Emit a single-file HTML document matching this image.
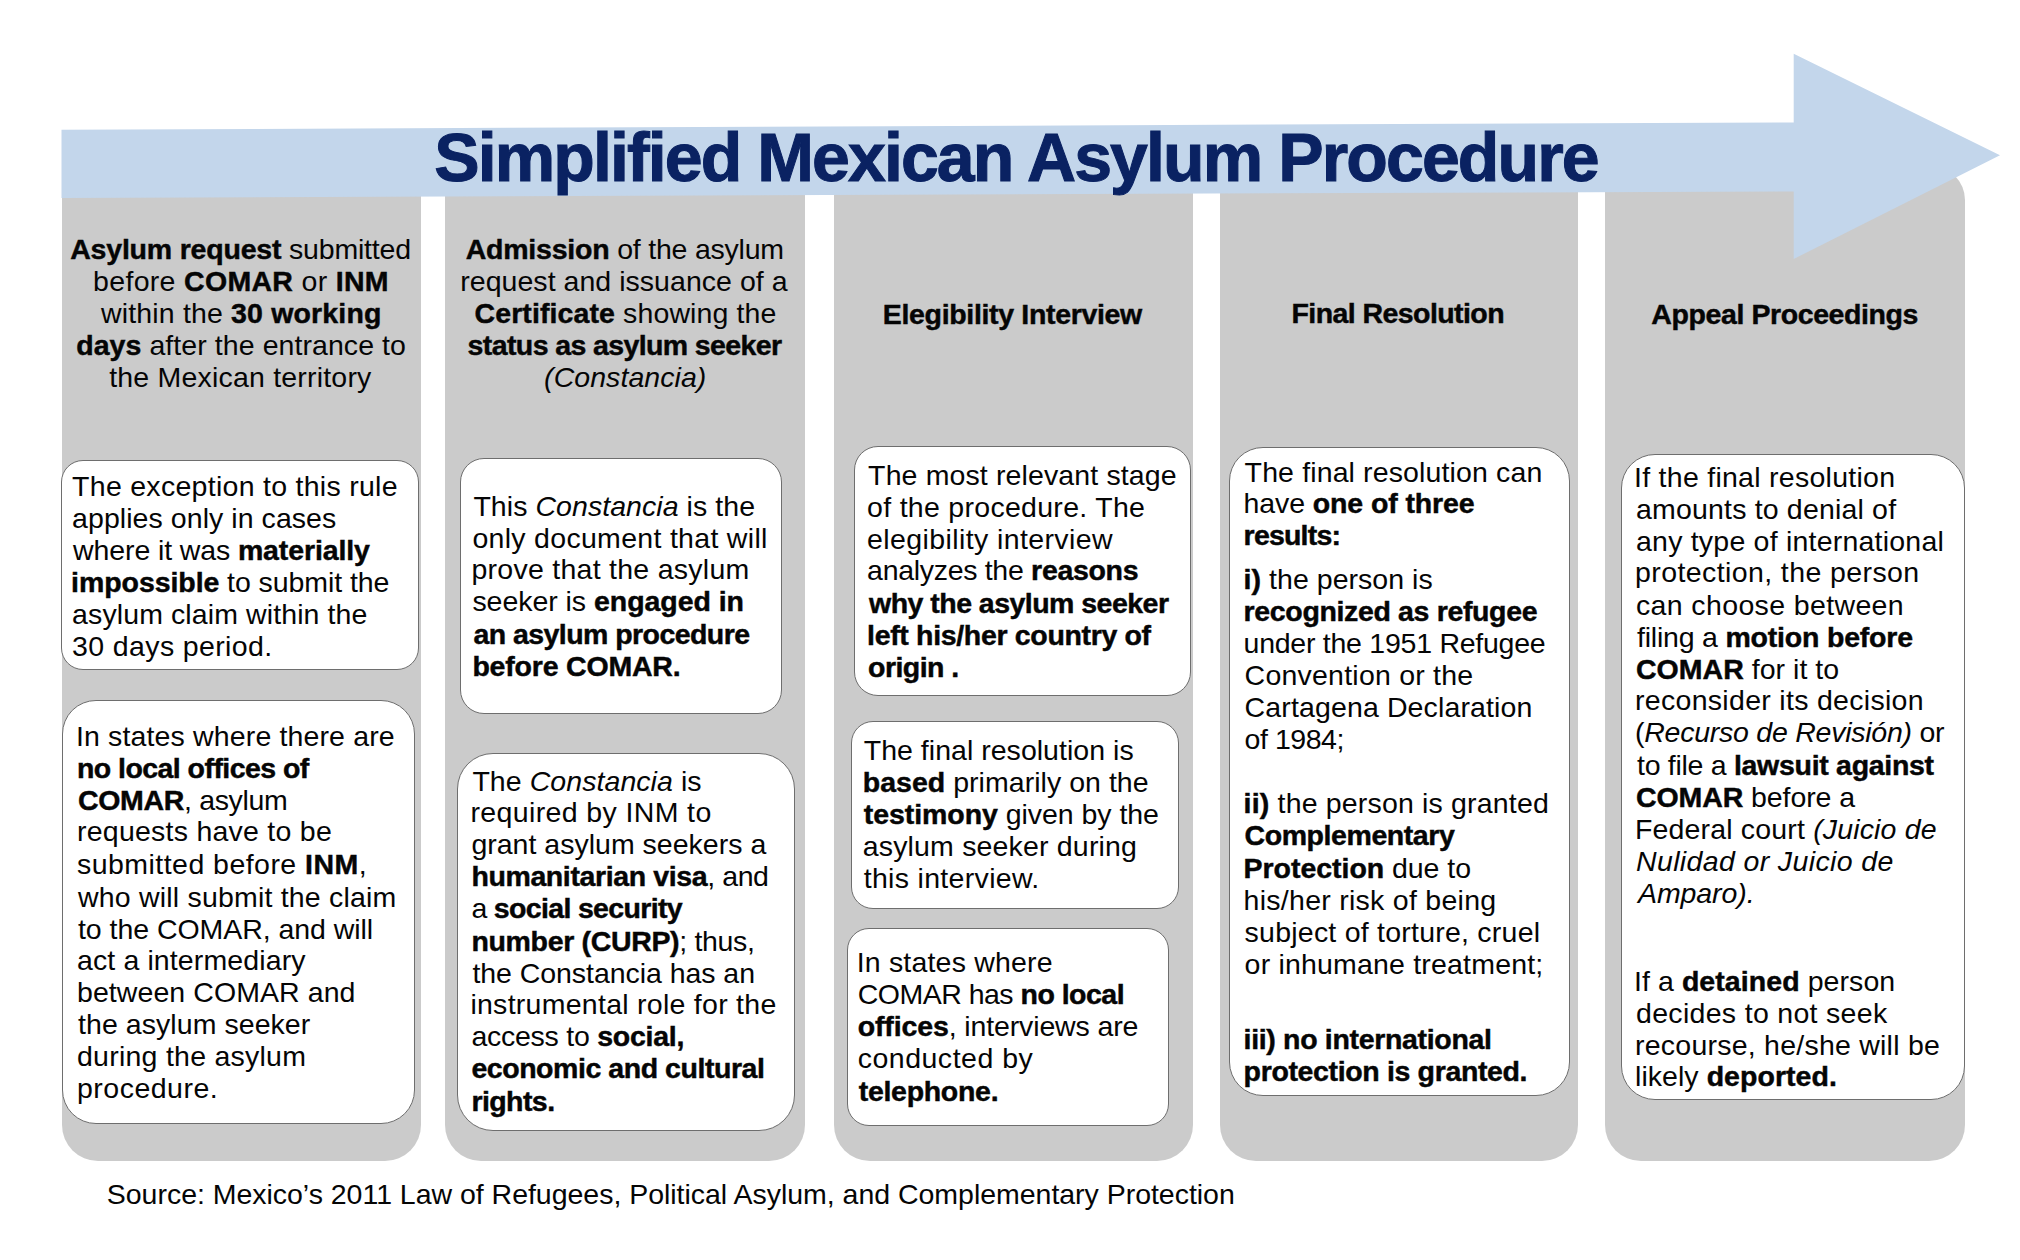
<!DOCTYPE html><html><head><meta charset="utf-8"><style>
html,body{margin:0;padding:0;background:#fff;}
body{width:2020px;height:1260px;position:relative;overflow:hidden;font-family:"Liberation Sans",sans-serif;color:#050505;}
.l{position:absolute;white-space:nowrap;font-size:28.5px;line-height:32px;height:32px;}
.l b{font-weight:bold;-webkit-text-stroke:0.45px currentColor;}
.c{position:absolute;background:#cbcbcb;border-radius:36px;}
.bx{position:absolute;background:#fff;border:1.3px solid #6e6e6e;box-sizing:border-box;}
.t{position:absolute;white-space:nowrap;font-size:68px;font-weight:bold;color:#0a2262;line-height:80px;height:80px;-webkit-text-stroke:1px #0a2262;}
</style></head><body>
<div class="c" style="left:61.5px;top:150.0px;width:359.5px;height:1010.7px;border-radius:0 0 36px 36px;"></div>
<div class="c" style="left:445.3px;top:150.0px;width:359.7px;height:1010.7px;border-radius:0 0 36px 36px;"></div>
<div class="c" style="left:834.0px;top:150.0px;width:358.8px;height:1010.7px;border-radius:0 0 36px 36px;"></div>
<div class="c" style="left:1219.8px;top:150.0px;width:358.5px;height:1010.7px;border-radius:0 0 36px 36px;"></div>
<div class="c" style="left:1605.3px;top:166.0px;width:359.7px;height:994.7px;border-radius:0 34px 36px 36px;"></div>
<svg style="position:absolute;left:0;top:0" width="2020" height="1260" viewBox="0 0 2020 1260"><polygon fill="#c3d6eb" points="61.5,129.7 1793.7,122.4 1793.7,53.7 2000,155.3 1793.7,259 1793.7,191.4 61.5,197.9"/></svg>
<div class="bx" style="left:61.0px;top:459.6px;width:357.5px;height:210.4px;border-radius:22px;"></div>
<div class="bx" style="left:61.7px;top:700.3px;width:353.0px;height:423.9px;border-radius:34px;"></div>
<div class="bx" style="left:459.6px;top:458.4px;width:322.8px;height:255.9px;border-radius:24px;"></div>
<div class="bx" style="left:457.2px;top:752.5px;width:337.4px;height:378.4px;border-radius:36px;"></div>
<div class="bx" style="left:853.5px;top:445.6px;width:337.3px;height:250.9px;border-radius:24px;"></div>
<div class="bx" style="left:851.1px;top:720.5px;width:328.4px;height:188.3px;border-radius:22px;"></div>
<div class="bx" style="left:846.5px;top:927.5px;width:322.3px;height:198.1px;border-radius:22px;"></div>
<div class="bx" style="left:1229.4px;top:447.3px;width:341.0px;height:648.3px;border-radius:34px;"></div>
<div class="bx" style="left:1620.5px;top:454.2px;width:344.8px;height:646.1px;border-radius:34px;"></div>
<div class="t" style="left:434.20px;top:117.12px;letter-spacing:-1.883px;">Simplified Mexican Asylum Procedure</div>
<div class="l" style="left:70.20px;top:233.40px;letter-spacing:-0.193px;"><b>Asylum request</b> submitted</div>
<div class="l" style="left:93.10px;top:265.40px;letter-spacing:0.312px;">before <b>COMAR</b> or <b>INM</b></div>
<div class="l" style="left:101.00px;top:296.60px;letter-spacing:0.160px;">within the <b>30 working</b></div>
<div class="l" style="left:76.20px;top:328.60px;letter-spacing:0.072px;"><b>days</b> after the entrance to</div>
<div class="l" style="left:109.20px;top:361.00px;letter-spacing:0.200px;">the Mexican territory</div>
<div class="l" style="left:72.10px;top:469.70px;letter-spacing:0.280px;">The exception to this rule</div>
<div class="l" style="left:72.10px;top:501.70px;letter-spacing:0.060px;">applies only in cases</div>
<div class="l" style="left:73.10px;top:533.70px;letter-spacing:-0.118px;">where it was <b>materially</b></div>
<div class="l" style="left:71.10px;top:565.70px;letter-spacing:-0.071px;"><b>impossible</b> to submit the</div>
<div class="l" style="left:72.10px;top:597.70px;letter-spacing:0.103px;">asylum claim within the</div>
<div class="l" style="left:72.10px;top:629.60px;letter-spacing:0.372px;">30 days period.</div>
<div class="l" style="left:76.00px;top:720.40px;letter-spacing:0.140px;">In states where there are</div>
<div class="l" style="left:77.00px;top:751.80px;letter-spacing:-0.556px;"><b>no local offices of</b></div>
<div class="l" style="left:78.00px;top:783.50px;letter-spacing:-0.333px;"><b>COMAR</b>, asylum</div>
<div class="l" style="left:77.00px;top:814.80px;letter-spacing:0.244px;">requests have to be</div>
<div class="l" style="left:77.00px;top:848.30px;letter-spacing:0.460px;">submitted before <b>INM</b>,</div>
<div class="l" style="left:78.00px;top:880.60px;letter-spacing:0.194px;">who will submit the claim</div>
<div class="l" style="left:78.00px;top:912.50px;letter-spacing:-0.047px;">to the COMAR, and will</div>
<div class="l" style="left:77.00px;top:944.30px;letter-spacing:0.118px;">act a intermediary</div>
<div class="l" style="left:77.00px;top:975.70px;letter-spacing:0.078px;">between COMAR and</div>
<div class="l" style="left:78.00px;top:1007.80px;letter-spacing:0.062px;">the asylum seeker</div>
<div class="l" style="left:77.00px;top:1040.30px;letter-spacing:0.250px;">during the asylum</div>
<div class="l" style="left:77.00px;top:1072.30px;letter-spacing:0.492px;">procedure.</div>
<div class="l" style="left:465.70px;top:233.40px;letter-spacing:-0.215px;"><b>Admission</b> of the asylum</div>
<div class="l" style="left:460.30px;top:265.40px;letter-spacing:0.036px;">request and issuance of a</div>
<div class="l" style="left:474.50px;top:296.60px;letter-spacing:0.108px;"><b>Certificate</b> showing the</div>
<div class="l" style="left:467.60px;top:328.60px;letter-spacing:-0.609px;"><b>status as asylum seeker</b></div>
<div class="l" style="left:544.10px;top:361.00px;letter-spacing:0.057px;"><i>(Constancia)</i></div>
<div class="l" style="left:473.40px;top:489.90px;letter-spacing:0.058px;">This <i>Constancia</i> is the</div>
<div class="l" style="left:472.40px;top:521.70px;letter-spacing:0.302px;">only document that will</div>
<div class="l" style="left:471.40px;top:553.40px;letter-spacing:0.270px;">prove that the asylum</div>
<div class="l" style="left:472.40px;top:585.40px;letter-spacing:-0.041px;">seeker is <b>engaged in</b></div>
<div class="l" style="left:473.40px;top:618.00px;letter-spacing:-0.555px;"><b>an asylum procedure</b></div>
<div class="l" style="left:472.40px;top:649.80px;letter-spacing:-0.198px;"><b>before COMAR.</b></div>
<div class="l" style="left:472.40px;top:764.90px;letter-spacing:0.066px;">The <i>Constancia</i> is</div>
<div class="l" style="left:470.40px;top:796.40px;letter-spacing:0.378px;">required by INM to</div>
<div class="l" style="left:471.40px;top:827.90px;letter-spacing:0.010px;">grant asylum seekers a</div>
<div class="l" style="left:471.40px;top:859.80px;letter-spacing:-0.389px;"><b>humanitarian visa</b>, and</div>
<div class="l" style="left:471.40px;top:892.30px;letter-spacing:-0.663px;">a <b>social security</b></div>
<div class="l" style="left:471.40px;top:925.00px;letter-spacing:-0.329px;"><b>number (CURP)</b>; thus,</div>
<div class="l" style="left:472.40px;top:956.90px;letter-spacing:-0.050px;">the Constancia has an</div>
<div class="l" style="left:470.40px;top:988.30px;letter-spacing:0.269px;">instrumental role for the</div>
<div class="l" style="left:471.40px;top:1019.90px;letter-spacing:-0.250px;">access to <b>social,</b></div>
<div class="l" style="left:471.40px;top:1052.10px;letter-spacing:-0.450px;"><b>economic and cultural</b></div>
<div class="l" style="left:471.40px;top:1084.50px;letter-spacing:-0.568px;"><b>rights.</b></div>
<div class="l" style="left:882.80px;top:297.60px;letter-spacing:-0.330px;"><b>Elegibility Interview</b></div>
<div class="l" style="left:868.10px;top:459.20px;letter-spacing:0.126px;">The most relevant stage</div>
<div class="l" style="left:867.10px;top:491.00px;letter-spacing:0.290px;">of the procedure. The</div>
<div class="l" style="left:867.10px;top:522.50px;letter-spacing:0.390px;">elegibility interview</div>
<div class="l" style="left:867.10px;top:554.30px;letter-spacing:-0.304px;">analyzes the <b>reasons</b></div>
<div class="l" style="left:869.10px;top:587.30px;letter-spacing:-0.530px;"><b>why the asylum seeker</b></div>
<div class="l" style="left:867.10px;top:619.10px;letter-spacing:-0.334px;"><b>left his/her country of</b></div>
<div class="l" style="left:868.10px;top:650.70px;letter-spacing:-0.572px;"><b>origin .</b></div>
<div class="l" style="left:863.70px;top:734.00px;letter-spacing:0.029px;">The final resolution is</div>
<div class="l" style="left:862.70px;top:765.80px;letter-spacing:0.038px;"><b>based</b> primarily on the</div>
<div class="l" style="left:863.70px;top:797.60px;letter-spacing:-0.048px;"><b>testimony</b> given by the</div>
<div class="l" style="left:862.70px;top:829.50px;letter-spacing:0.179px;">asylum seeker during</div>
<div class="l" style="left:863.70px;top:861.60px;letter-spacing:0.317px;">this interview.</div>
<div class="l" style="left:856.70px;top:946.30px;letter-spacing:0.183px;">In states where</div>
<div class="l" style="left:857.70px;top:978.30px;letter-spacing:-0.508px;">COMAR has <b>no local</b></div>
<div class="l" style="left:857.70px;top:1009.90px;letter-spacing:-0.127px;"><b>offices</b>, interviews are</div>
<div class="l" style="left:857.70px;top:1041.90px;letter-spacing:0.507px;">conducted by</div>
<div class="l" style="left:858.70px;top:1074.50px;letter-spacing:-0.291px;"><b>telephone.</b></div>
<div class="l" style="left:1291.50px;top:297.30px;letter-spacing:-0.573px;"><b>Final Resolution</b></div>
<div class="l" style="left:1244.60px;top:455.80px;letter-spacing:0.130px;">The final resolution can</div>
<div class="l" style="left:1243.60px;top:487.30px;letter-spacing:-0.112px;">have <b>one of three</b></div>
<div class="l" style="left:1243.60px;top:518.90px;letter-spacing:-0.798px;"><b>results:</b></div>
<div class="l" style="left:1243.60px;top:563.20px;letter-spacing:0.039px;"><b>i)</b> the person is</div>
<div class="l" style="left:1243.60px;top:595.10px;letter-spacing:-0.350px;"><b>recognized as refugee</b></div>
<div class="l" style="left:1243.60px;top:626.90px;letter-spacing:-0.257px;">under the 1951 Refugee</div>
<div class="l" style="left:1244.60px;top:658.80px;letter-spacing:0.225px;">Convention or the</div>
<div class="l" style="left:1244.60px;top:690.90px;letter-spacing:0.130px;">Cartagena Declaration</div>
<div class="l" style="left:1244.60px;top:722.50px;letter-spacing:-0.454px;">of 1984;</div>
<div class="l" style="left:1243.60px;top:786.80px;letter-spacing:0.173px;"><b>ii)</b> the person is granted</div>
<div class="l" style="left:1244.60px;top:818.70px;letter-spacing:-0.435px;"><b>Complementary</b></div>
<div class="l" style="left:1243.60px;top:851.60px;letter-spacing:-0.041px;"><b>Protection</b> due to</div>
<div class="l" style="left:1243.60px;top:883.60px;letter-spacing:0.270px;">his/her risk of being</div>
<div class="l" style="left:1244.60px;top:915.60px;letter-spacing:0.233px;">subject of torture, cruel</div>
<div class="l" style="left:1244.60px;top:947.60px;letter-spacing:0.191px;">or inhumane treatment;</div>
<div class="l" style="left:1243.60px;top:1022.90px;letter-spacing:-0.330px;"><b>iii) no international</b></div>
<div class="l" style="left:1243.60px;top:1054.80px;letter-spacing:-0.353px;"><b>protection is granted.</b></div>
<div class="l" style="left:1651.30px;top:297.60px;letter-spacing:-0.404px;"><b>Appeal Proceedings</b></div>
<div class="l" style="left:1634.00px;top:461.20px;letter-spacing:0.273px;">If the final resolution</div>
<div class="l" style="left:1636.00px;top:492.80px;letter-spacing:0.178px;">amounts to denial of</div>
<div class="l" style="left:1636.00px;top:524.70px;letter-spacing:0.216px;">any type of international</div>
<div class="l" style="left:1635.00px;top:556.30px;letter-spacing:0.405px;">protection, the person</div>
<div class="l" style="left:1636.00px;top:589.00px;letter-spacing:0.366px;">can choose between</div>
<div class="l" style="left:1637.00px;top:621.00px;letter-spacing:-0.202px;">filing a <b>motion before</b></div>
<div class="l" style="left:1636.00px;top:652.90px;letter-spacing:0.031px;"><b>COMAR</b> for it to</div>
<div class="l" style="left:1635.00px;top:684.40px;letter-spacing:0.302px;">reconsider its decision</div>
<div class="l" style="left:1635.00px;top:716.30px;letter-spacing:-0.245px;">(<i>Recurso de Revisión)</i> or</div>
<div class="l" style="left:1637.00px;top:748.50px;letter-spacing:-0.292px;">to file a <b>lawsuit against</b></div>
<div class="l" style="left:1636.00px;top:780.80px;letter-spacing:-0.090px;"><b>COMAR</b> before a</div>
<div class="l" style="left:1635.00px;top:813.00px;letter-spacing:0.164px;">Federal court <i>(Juicio de</i></div>
<div class="l" style="left:1636.00px;top:845.10px;letter-spacing:0.368px;"><i>Nulidad or Juicio de</i></div>
<div class="l" style="left:1638.00px;top:876.60px;letter-spacing:-0.082px;"><i>Amparo).</i></div>
<div class="l" style="left:1634.00px;top:965.10px;letter-spacing:0.073px;">If a <b>detained</b> person</div>
<div class="l" style="left:1636.00px;top:996.90px;letter-spacing:0.312px;">decides to not seek</div>
<div class="l" style="left:1635.00px;top:1028.60px;letter-spacing:0.236px;">recourse, he/she will be</div>
<div class="l" style="left:1635.00px;top:1060.00px;letter-spacing:0.051px;">likely <b>deported.</b></div>
<div class="l" style="left:106.80px;top:1178.20px;letter-spacing:-0.024px;">Source: Mexico’s 2011 Law of Refugees, Political Asylum, and Complementary Protection</div>
</body></html>
